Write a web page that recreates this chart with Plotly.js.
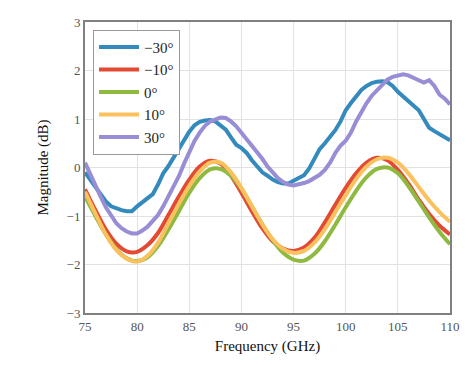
<!DOCTYPE html>
<html><head><meta charset="utf-8">
<script src="https://cdn.plot.ly/plotly-3.0.1.min.js"></script>
<style>html,body{margin:0;padding:0;background:#fff;}#chart{width:474px;height:365px;}</style>
</head><body><div id="chart"></div>
<script>
const freqCoarse = [75,76,77,78,79,80,81,82,83,84,85,86,87,88,89,90,91,92,93,94,95,96,97,98,99,100,101,102,103,104,105,106,107,108,109,110];
const freqFine = [75,75.5,76,76.5,77,77.5,78,78.5,79,79.5,80,80.5,81,81.5,82,82.5,83,83.5,84,84.5,85,85.5,86,86.5,87,87.5,88,88.5,89,89.5,90,90.5,91,91.5,92,92.5,93,93.5,94,94.5,95,95.5,96,96.5,97,97.5,98,98.5,99,99.5,100,100.5,101,101.5,102,102.5,103,103.5,104,104.5,105,105.5,106,106.5,107,107.5,108,108.5,109,109.5,110];

const magM30 = [-0.1,-0.25,-0.4,-0.58,-0.7,-0.8,-0.85,-0.88,-0.9,-0.9,-0.8,-0.72,-0.65,-0.55,-0.35,-0.12,0.03,0.2,0.38,0.56,0.74,0.87,0.94,0.97,0.98,0.95,0.87,0.78,0.62,0.47,0.4,0.3,0.15,0.02,-0.1,-0.17,-0.25,-0.3,-0.33,-0.33,-0.27,-0.22,-0.16,-0.02,0.2,0.38,0.5,0.62,0.77,0.95,1.18,1.33,1.45,1.6,1.68,1.74,1.77,1.78,1.76,1.68,1.56,1.46,1.37,1.28,1.18,1.0,0.82,0.75,0.68,0.62,0.56];
const magM10 = [-0.45,-0.88,-1.28,-1.57,-1.73,-1.74,-1.6,-1.35,-0.98,-0.6,-0.25,0.02,0.14,0.08,-0.17,-0.52,-0.9,-1.25,-1.52,-1.67,-1.72,-1.65,-1.45,-1.13,-0.77,-0.42,-0.12,0.1,0.2,0.15,-0.05,-0.33,-0.66,-0.96,-1.2,-1.38];
const mag0 = [-0.6,-1.0,-1.38,-1.68,-1.87,-1.93,-1.85,-1.62,-1.28,-0.9,-0.52,-0.22,-0.04,-0.03,-0.17,-0.44,-0.8,-1.17,-1.5,-1.76,-1.9,-1.92,-1.78,-1.52,-1.18,-0.82,-0.48,-0.2,-0.03,0.0,-0.12,-0.38,-0.7,-1.03,-1.33,-1.58];
const magP10 = [-0.5,-0.95,-1.38,-1.7,-1.88,-1.94,-1.82,-1.55,-1.15,-0.75,-0.38,-0.08,0.1,0.1,-0.1,-0.42,-0.8,-1.17,-1.48,-1.68,-1.76,-1.72,-1.55,-1.27,-0.92,-0.57,-0.24,0.02,0.17,0.2,0.1,-0.12,-0.4,-0.68,-0.92,-1.12];
const magP30 = [0.1,-0.15,-0.4,-0.6,-0.82,-1.0,-1.15,-1.25,-1.32,-1.36,-1.36,-1.3,-1.22,-1.1,-0.98,-0.8,-0.6,-0.36,-0.18,0.08,0.33,0.55,0.72,0.86,0.95,1.0,1.03,1.02,0.95,0.85,0.72,0.6,0.45,0.32,0.18,0.02,-0.1,-0.22,-0.3,-0.35,-0.37,-0.35,-0.32,-0.28,-0.22,-0.15,-0.05,0.1,0.3,0.45,0.55,0.72,0.95,1.15,1.33,1.48,1.6,1.72,1.81,1.87,1.9,1.92,1.9,1.86,1.8,1.75,1.8,1.68,1.5,1.42,1.3];

const names = ['\u221230\u00b0','\u221210\u00b0','0\u00b0','10\u00b0','30\u00b0'];
const colors = ['#348ABD','#E24A33','#8EBA42','#FBC15E','#988ED5'];

const traces = [
  {x: freqFine, y: magM30, name: names[0], line:{color:colors[0], width:4}},
  {x: freqCoarse, y: magM10, name: names[1], line:{color:colors[1], width:4, shape:'spline'}},
  {x: freqCoarse, y: mag0, name: names[2], line:{color:colors[2], width:4, shape:'spline'}},
  {x: freqCoarse, y: magP10, name: names[3], line:{color:colors[3], width:4, shape:'spline'}},
  {x: freqFine, y: magP30, name: names[4], line:{color:colors[4], width:4}}
].map(t => Object.assign({type:'scatter', mode:'lines'}, t));

const font = '"Liberation Serif", "Times New Roman", serif';
const tickFont = {family: font, size: 13, color: '#555'};
const layout = {
  width: 474, height: 365,
  margin: {l:85, r:24, t:22, b:52},
  paper_bgcolor:'#fff', plot_bgcolor:'#fff',
  showlegend: true,
  font: {family: font, color:'#555', size: 13},
  xaxis: {
    range:[75,110], tickvals:[75,80,85,90,95,100,105,110],
    tickfont: tickFont,
    showline:true, linecolor:'#808080', linewidth:2, mirror:true,
    showgrid:true, gridcolor:'#e2e2e2', gridwidth:1, zeroline:false,
    ticks:'', ticklen:0,
    title:{text:'Frequency (GHz)', font:{family:font, size:15, color:'#111'}, standoff:8}
  },
  yaxis: {
    range:[-3,3], tickvals:[-3,-2,-1,0,1,2,3], ticktext:['\u22123','\u22122','\u22121','0','1','2','3'],
    tickfont: tickFont,
    showline:true, linecolor:'#808080', linewidth:2, mirror:true,
    showgrid:true, gridcolor:'#e2e2e2', gridwidth:1, zeroline:false,
    ticks:'', ticklen:0,
    title:{text:'Magnitude (dB)', font:{family:font, size:15, color:'#111'}, standoff:14}
  },
  legend: {
    x:0.022, y:0.973, xanchor:'left', yanchor:'top',
    bgcolor:'#fff', bordercolor:'#999', borderwidth:1,
    font:{family:font, size:15, color:'#222'},
    itemwidth:40, tracegroupgap:0
  }
};
Plotly.newPlot('chart', traces, layout, {displayModeBar:false, staticPlot:true});
</script></body></html>
